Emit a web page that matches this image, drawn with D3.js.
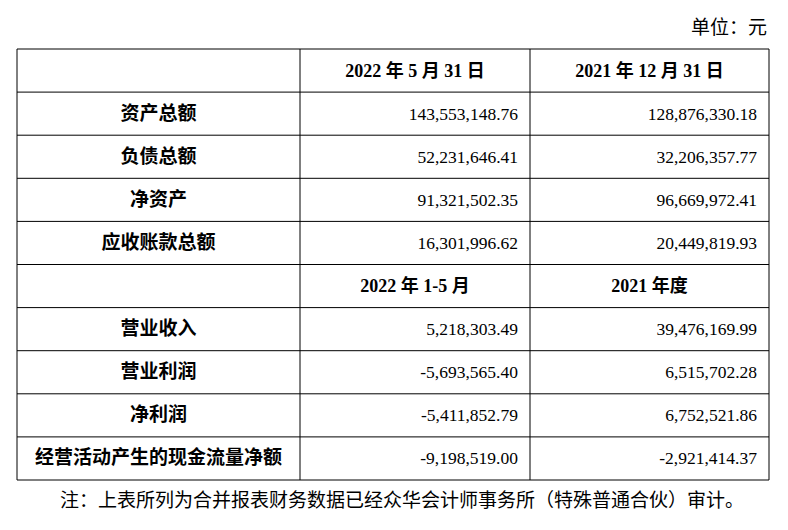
<!DOCTYPE html>
<html lang="zh">
<head>
<meta charset="UTF-8">
<script src="https://cdn.jsdelivr.net/npm/d3@7"></script>
<style>
  body { margin: 0; background: #fff; }
  text { font-family: "Liberation Serif", "Noto Sans CJK SC", serif; fill: #000; }
</style>
</head>
<body>
<div id="chart"></div>
<script>
var headers1 = ["2022 年 5 月 31 日", "2021 年 12 月 31 日"];
var headers2 = ["2022 年 1-5 月", "2021 年度"];
var labels1 = ["资产总额", "负债总额", "净资产", "应收账款总额"];
var col1a = ["143,553,148.76", "52,231,646.41", "91,321,502.35", "16,301,996.62"];
var col2a = ["128,876,330.18", "32,206,357.77", "96,669,972.41", "20,449,819.93"];
var labels2 = ["营业收入", "营业利润", "净利润", "经营活动产生的现金流量净额"];
var col1b = ["5,218,303.49", "-5,693,565.40", "-5,411,852.79", "-9,198,519.00"];
var col2b = ["39,476,169.99", "6,515,702.28", "6,752,521.86", "-2,921,414.37"];

var w = 788, h = 530;
var svg = d3.select('#chart').append('svg').attr('width', w).attr('height', h);

var rows = [];
rows.push({type: 'h', cells: ["", headers1[0], headers1[1]]});
labels1.forEach((l, i) => rows.push({type: 'd', cells: [l, col1a[i], col2a[i]]}));
rows.push({type: 'h', cells: ["", headers2[0], headers2[1]]});
labels2.forEach((l, i) => rows.push({type: 'd', cells: [l, col1b[i], col2b[i]]}));

var colEdges = [17, 300, 530, 769];
var y = d3.scaleBand().domain(d3.range(rows.length)).range([49, 480]);

var g = svg.append('g');
g.selectAll('line.h').data(d3.range(rows.length + 1)).enter().append('line')
  .attr('x1', colEdges[0]).attr('x2', colEdges[3])
  .attr('y1', d => d < rows.length ? y(d) : y.range()[1])
  .attr('y2', d => d < rows.length ? y(d) : y.range()[1])
  .attr('stroke', '#000').attr('stroke-width', 1);
g.selectAll('line.v').data(colEdges).enter().append('line')
  .attr('x1', d => d).attr('x2', d => d)
  .attr('y1', 49).attr('y2', 480)
  .attr('stroke', '#000').attr('stroke-width', 1);

rows.forEach((r, i) => {
  var cy = y(i) + y.bandwidth() / 2 + 6;
  r.cells.forEach((c, j) => {
    var t = g.append('text').attr('y', cy).text(c);
    if (j === 0) {
      t.attr('x', (colEdges[0] + colEdges[1]) / 2).attr('text-anchor', 'middle')
        .attr('font-weight', 'bold').attr('font-size', 19);
    } else if (r.type === 'h') {
      t.attr('x', (colEdges[j] + colEdges[j + 1]) / 2).attr('text-anchor', 'middle')
        .attr('font-weight', 'bold').attr('font-size', 18);
    } else {
      t.attr('x', colEdges[j + 1] - 12).attr('text-anchor', 'end').attr('font-size', 17.5);
    }
  });
});

svg.append('text').attr('x', 767).attr('y', 34).attr('text-anchor', 'end')
  .attr('font-size', 19).text('单位：元');
svg.append('text').attr('x', 60).attr('y', 507).attr('font-size', 19)
  .text('注：上表所列为合并报表财务数据已经众华会计师事务所（特殊普通合伙）审计。');
</script>
</body>
</html>
